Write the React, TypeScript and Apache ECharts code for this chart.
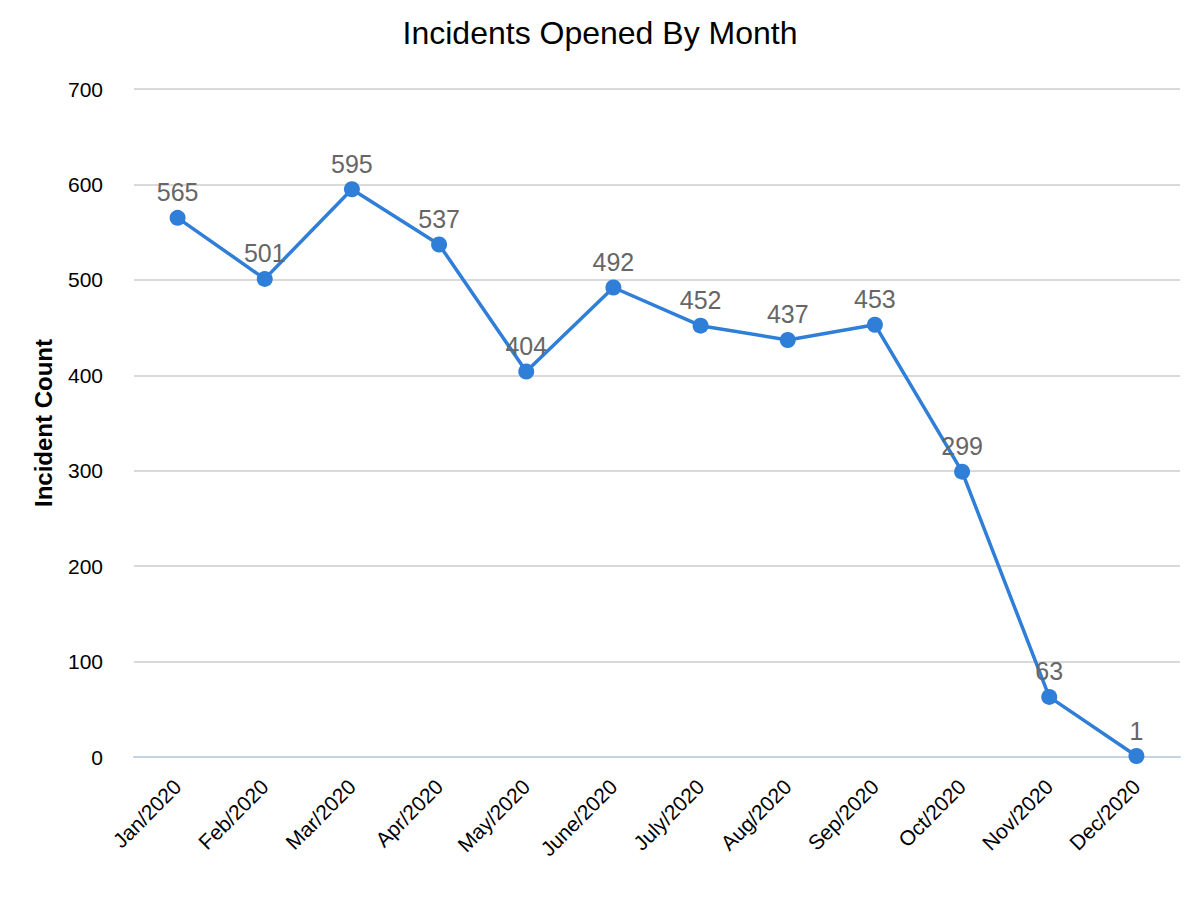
import React, { useEffect, useRef } from 'react';
import * as echarts from 'echarts';

const months = [
  'Jan/2020', 'Feb/2020', 'Mar/2020', 'Apr/2020', 'May/2020', 'June/2020',
  'July/2020', 'Aug/2020', 'Sep/2020', 'Oct/2020', 'Nov/2020', 'Dec/2020',
];
const incidentCounts = [565, 501, 595, 537, 404, 492, 452, 437, 453, 299, 63, 1];

const FONT = '"Liberation Sans", Arial, Helvetica, sans-serif';

const App = () => {
  const chartRef = useRef<HTMLDivElement>(null);

  useEffect(() => {
    const chartDom = chartRef.current;
    if (!chartDom) return;

    const myChart = echarts.init(chartDom, undefined, { renderer: 'svg' });

    const option = {
      animation: false,
      textStyle: { fontFamily: FONT },
      title: {
        text: 'Incidents Opened By Month',
        left: 'center',
        top: 12,
        textStyle: { fontSize: 32, fontWeight: 'normal', color: '#000', fontFamily: FONT },
      },
      grid: { left: 134, right: 20, top: 89, bottom: 143 },
      xAxis: {
        type: 'category',
        data: months,
        boundaryGap: true,
        axisLine: { show: true, lineStyle: { color: '#c6d2e6', width: 2 } },
        axisTick: { show: false },
        axisLabel: {
          rotate: 45,
          interval: 0,
          margin: 26,
          fontSize: 21,
          color: '#000',
          fontFamily: FONT,
        },
      },
      yAxis: {
        type: 'value',
        min: 0,
        max: 700,
        interval: 100,
        name: 'Incident Count',
        nameLocation: 'middle',
        nameGap: 79,
        nameTextStyle: { fontSize: 24, fontWeight: 'bold', color: '#000', fontFamily: FONT },
        axisLine: { show: false },
        axisTick: { show: false },
        axisLabel: { margin: 31, fontSize: 21, color: '#000', fontFamily: FONT },
        splitLine: { lineStyle: { color: '#cccccc', width: 1.5 } },
      },
      series: [
        {
          type: 'line',
          data: incidentCounts,
          symbol: 'circle',
          symbolSize: 16,
          itemStyle: { color: '#2f7ed8' },
          lineStyle: { color: '#2f7ed8', width: 3.5 },
          label: {
            show: true,
            position: 'top',
            distance: 5,
            fontSize: 25,
            color: '#666666',
            fontFamily: FONT,
          },
        },
      ],
    };

    myChart.setOption(option);

    return () => {
      myChart.dispose();
    };
  }, []);

  return <div ref={chartRef} style={{ width: '1200px', height: '900px', margin: '-8px' }}></div>;
};

export default App;
